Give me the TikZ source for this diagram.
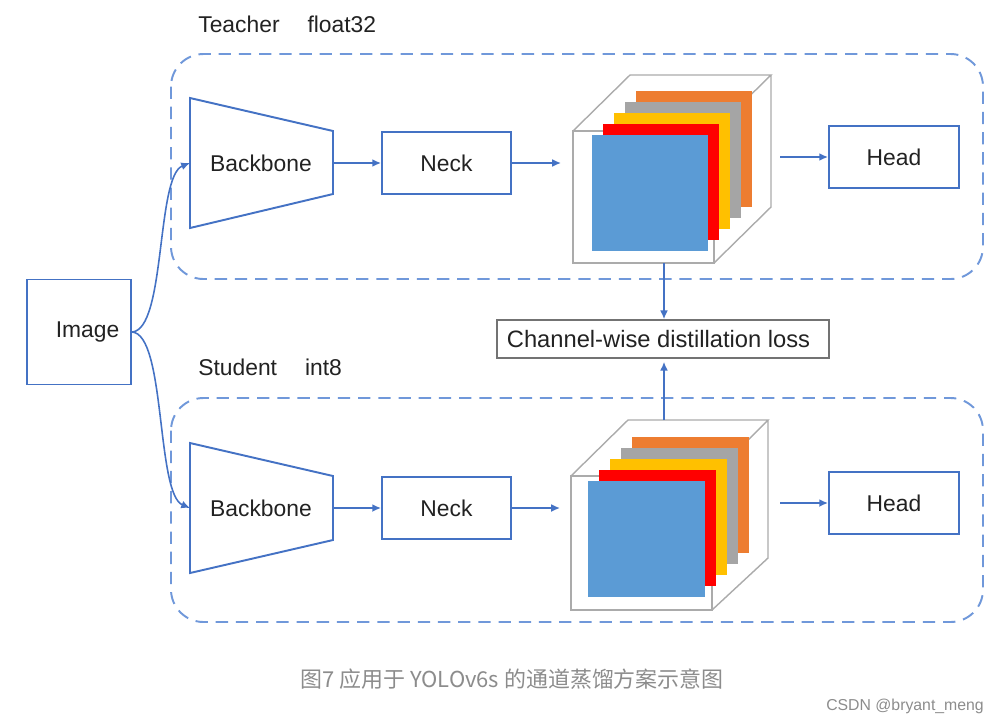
\documentclass[tikz,border=0pt]{standalone}
\usepackage{fontspec}
\setmainfont{Liberation Sans}
\newfontfamily\cjk{Noto Sans CJK SC}
\usepackage{tikz}
\usetikzlibrary{positioning, arrows.meta}

\definecolor{lineblue}{HTML}{4472C4}
\definecolor{dashblue}{HTML}{7098DA}
\definecolor{cubegray}{HTML}{ABABAB}
\definecolor{chblue}{HTML}{5B9BD5}
\definecolor{chred}{HTML}{FF0000}
\definecolor{chyellow}{HTML}{FFC000}
\definecolor{chgray}{HTML}{A5A5A5}
\definecolor{chorange}{HTML}{ED7D31}
\definecolor{txtdark}{HTML}{222222}
\definecolor{capgray}{HTML}{8C8C8C}

\begin{document}
\begin{tikzpicture}[
  x=0.02cm, y=-0.02cm,
  font=\fontsize{13}{15}\selectfont, text=txtdark,
  blk/.style={draw=lineblue, line width=1.1pt, minimum width=2.58cm,
    minimum height=1.24cm, inner sep=0pt},
  bbone/.style={draw=lineblue, line width=1.1pt, line join=miter},
  group/.style={draw=dashblue, line width=1.1pt, dash pattern=on 7pt off 4.5pt,
    rounded corners=0.65cm},
  arrow/.style={-{Latex[length=5pt, width=4.5pt]}, lineblue, line width=0.9pt},
  cubeline/.style={draw=cubegray, line width=0.8pt},
  lbl/.style={anchor=west, inner sep=0pt},
]
  \useasboundingbox (0,0) rectangle (1004,725);

  % dashed groups
  \draw[group] (171,54) rectangle (983,279);
  \draw[group] (171,398) rectangle (983,622);
  \node[lbl] (tlbl) at (198,24) {Teacher\hspace{0.56cm}float32};
  \node[lbl] (slbl) at (198,367) {Student\hspace{0.56cm}int8};

  % input
  \node[blk, minimum width=2.08cm, minimum height=2.1cm] (img) at (79,332)
    {\hspace*{0.34cm}Image};

  % teacher branch
  \draw[bbone] (190,98) -- (333,131) -- (333,194) -- (190,228) -- cycle;
  \node (tbb) at (261,163) {Backbone};
  \coordinate (tbbin) at (190,163);
  \coordinate (tbbout) at (333,163);
  \node[blk] (tneck) at (446.5,163) {Neck};
  \node[blk, minimum width=2.6cm] (thead) at (894,157) {Head};
  \coordinate (tcubein) at (561,163);
  \coordinate (tcubeout) at (780,157);
  \coordinate (tcubebot) at (664,263);

  \begin{scope}[shift={(573,131)}]
    \draw[cubeline] (0,0) rectangle (141,132);
    \draw[cubeline] (0,0) -- (57,-56) -- (198,-56) -- (141,0)
      (198,-56) -- (198,76) -- (141,132);
    \foreach \c/\k in {chorange/4, chgray/3, chyellow/2, chred/1, chblue/0}
      \fill[\c] ({19+11*\k},{4-11*\k}) rectangle ++(116,116);
  \end{scope}

  % student branch
  \draw[bbone] (190,443) -- (333,476) -- (333,540) -- (190,573) -- cycle;
  \node (sbb) at (261,508) {Backbone};
  \coordinate (sbbin) at (190,508);
  \coordinate (sbbout) at (333,508);
  \node[blk] (sneck) at (446.5,508) {Neck};
  \node[blk, minimum width=2.6cm] (shead) at (894,503) {Head};
  \coordinate (scubein) at (560,508);
  \coordinate (scubeout) at (780,503);
  \coordinate (scubetop) at (664,420);

  \begin{scope}[shift={(571,476)}]
    \draw[cubeline] (0,0) rectangle (141,134);
    \draw[cubeline] (0,0) -- (57,-56) -- (197,-56) -- (141,0)
      (197,-56) -- (197,82) -- (141,134);
    \foreach \c/\k in {chorange/4, chgray/3, chyellow/2, chred/1, chblue/0}
      \fill[\c] ({17+11*\k},{5-11*\k}) rectangle ++(117,116);
  \end{scope}

  % loss
  \node[draw=black!55, line width=0.9pt, minimum width=6.64cm,
    minimum height=0.76cm, font=\fontsize{13.5}{15}\selectfont] (loss)
    at (663,339) {Channel-wise distillation loss\hspace*{0.18cm}};

  \foreach \a/\b in {tbbout/tneck, tneck/tcubein, tcubeout/thead,
                     sbbout/sneck, sneck/scubein, scubeout/shead}
    \draw[arrow] (\a) -- (\b);
  \draw[arrow] (tcubebot) -- (tcubebot |- loss.north);
  \draw[arrow] (scubetop) -- ([yshift=-0.06cm]scubetop |- loss.south);

  \draw[arrow] (img.east) .. controls (166,330) and (156,176) .. (tbbin);
  \draw[arrow] (img.east) .. controls (166,334) and (156,494) .. (sbbin);

  % caption
  \node[font=\cjk\fontsize{12.5}{14}\selectfont, text=capgray] (cap)
    at (512,679) {图7 应用于 YOLOv6s 的通道蒸馏方案示意图};
  \node[anchor=east, font=\fontsize{9}{10}\selectfont, text=capgray] (wm)
    at (990,706) {CSDN @bryant\_meng};
\end{tikzpicture}
\end{document}
